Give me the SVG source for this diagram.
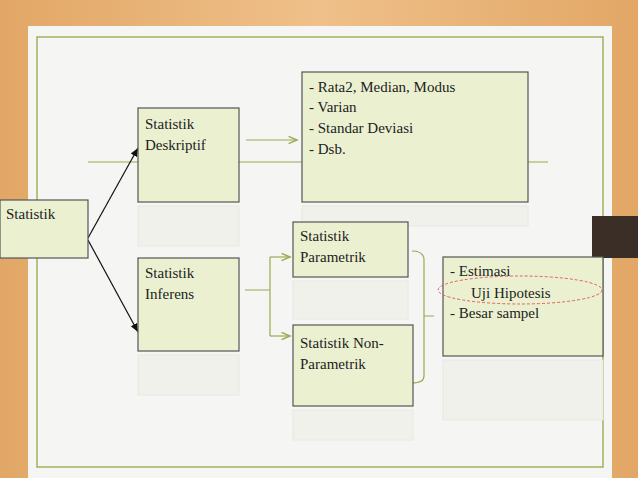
<svg xmlns="http://www.w3.org/2000/svg" width="638" height="478" viewBox="0 0 638 478">
<defs>
<linearGradient id="wood" x1="0" x2="1"><stop offset="0" stop-color="#e2a766"/><stop offset="0.5" stop-color="#efc08a"/><stop offset="1" stop-color="#e2a766"/></linearGradient>
<marker id="ab" markerWidth="8" markerHeight="8" refX="7" refY="4" orient="auto"><path d="M0,1 L7,4 L0,7 z" fill="#111"/></marker>
<marker id="ag" markerWidth="10" markerHeight="8" refX="8" refY="4" orient="auto"><path d="M1,1 L8,4 L1,7" fill="none" stroke="#9aaa50" stroke-width="1.2"/></marker>
</defs>
<style>
.box{fill:#ebf1d0;stroke:#555;stroke-width:1.2}
.refl{fill:#f0f1ea;stroke:#e8e8e2;stroke-width:1}
text{font-family:"Liberation Serif",serif;font-size:15px;fill:#222}
.g{stroke:#9aaa50;stroke-width:1.2;fill:none}
</style>
<rect width="638" height="478" fill="url(#wood)"/>
<rect x="28" y="26" width="584" height="452" fill="#f5f5f3"/>
<rect x="37" y="37" width="566" height="430" fill="none" stroke="#a4b05a" stroke-width="1.5"/>
<rect x="592" y="216" width="46" height="42" fill="#3a2e26"/>
<g id="reflections">
<rect class="refl" x="138" y="206" width="101" height="40"/>
<rect class="refl" x="302" y="206" width="226" height="20"/>
<rect class="refl" x="293" y="281" width="115" height="38"/>
<rect class="refl" x="443" y="360" width="160" height="60"/>
<rect class="refl" x="138" y="355" width="101" height="40"/>
<rect class="refl" x="293" y="410" width="120" height="30"/>
</g>
<g id="connectors">
<line class="g" x1="88" y1="162" x2="548" y2="162"/>
<line x1="88" y1="238" x2="138" y2="148" stroke="#111" stroke-width="1.2" marker-end="url(#ab)"/>
<line x1="88" y1="240" x2="138" y2="332" stroke="#111" stroke-width="1.2" marker-end="url(#ab)"/>
<line class="g" x1="246" y1="140" x2="297" y2="140" marker-end="url(#ag)"/>
<path class="g" d="M245,290 H270 M270,257 V336"/>
<line class="g" x1="270" y1="257" x2="290" y2="257" marker-end="url(#ag)"/>
<line class="g" x1="270" y1="336" x2="290" y2="336" marker-end="url(#ag)"/>
<path class="g" d="M412,251 Q424,251 424,260 V376 Q424,383 412,383 M424,316 H434"/>
</g>
<g id="statistik"><rect class="box" x="0" y="200" width="88" height="58"/><text x="6" y="219">Statistik</text></g>
<g id="deskriptif"><rect class="box" x="138" y="108" width="101" height="94"/><text x="145" y="129">Statistik</text><text x="145" y="150">Deskriptif</text></g>
<g id="inferens"><rect class="box" x="138" y="258" width="101" height="93"/><text x="145" y="278">Statistik</text><text x="145" y="299">Inferens</text></g>
<g id="deskriptif-list"><rect class="box" x="302" y="72" width="226" height="130"/>
<text x="309" y="92">- Rata2, Median, Modus</text><text x="309" y="112">- Varian</text><text x="309" y="133">- Standar Deviasi</text><text x="309" y="154">- Dsb.</text></g>
<g id="parametrik"><rect class="box" x="293" y="222" width="115" height="55"/><text x="300" y="241">Statistik</text><text x="300" y="262">Parametrik</text></g>
<g id="nonparametrik"><rect class="box" x="293" y="325" width="120" height="81"/><text x="300" y="348">Statistik Non-</text><text x="300" y="369">Parametrik</text></g>
<g id="inferens-list"><rect class="box" x="443" y="257" width="160" height="99"/>
<text x="450" y="276">- Estimasi</text><text x="471" y="298">Uji Hipotesis</text><text x="450" y="318">- Besar sampel</text>
<ellipse cx="520" cy="290" rx="82" ry="14" fill="none" stroke="#e06060" stroke-width="1" stroke-dasharray="3,2"/></g>
</svg>
